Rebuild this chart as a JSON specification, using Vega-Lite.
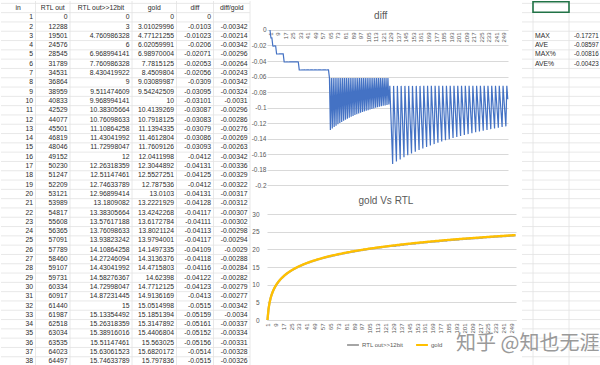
{
"$schema":"https://vega.github.io/schema/vega-lite/v6.json",
"padding":0,
"background":"white",
"spacing":0,
"align":"none",
"title":{"text":"知乎 @知也无涯","orient":"bottom","anchor":"end","offset":-32,"dx":-8,"baseline":"top","font":"Noto Sans CJK SC","fontSize":20,"color":"#9a9a9a","fontWeight":"normal"},
"config":{
 "view":{"stroke":null},
 "font":"Liberation Sans",
 "concat":{"spacing":0},
 "text":{"font":"Liberation Sans","fontSize":6.8,"color":"#2b2b2b","baseline":"middle"},
 "rule":{"color":"#e2e2e2","strokeWidth":0.8},
 "axis":{"labelFont":"Liberation Sans","labelFontSize":6.5,"labelColor":"#595959","title":null},
 "title":{"font":"Liberation Sans","fontSize":10,"color":"#595959","fontWeight":"normal"},
 "legend":{"labelFont":"Liberation Sans","labelFontSize":6,"labelColor":"#595959"}
},
"datasets":{
 "cols":[{"b":1},{"b":2},{"b":3},{"b":4},{"b":5},{"b":6}],
 "stats":[{"row":3,"k":"MAX","v":"-0.17271"},{"row":4,"k":"AVE","v":"-0.08597"},{"row":5,"k":"MAX%","v":"-0.00816"},{"row":6,"k":"AVE%","v":"-0.00423"}],
 "t":[
{"row":0,"a":"in","b":"RTL out","c":"RTL out>>12bit","d":"gold","e":"diff","f":"diff/gold"},
{"row":1,"a":"1","b":"0","c":"0","d":"0","e":"0","f":""},
{"row":2,"a":"2","b":"12288","c":"3","d":"3.01029996","e":"-0.0103","f":"-0.00342"},
{"row":3,"a":"3","b":"19501","c":"4.760986328","d":"4.77121255","e":"-0.01023","f":"-0.00214"},
{"row":4,"a":"4","b":"24576","c":"6","d":"6.02059991","e":"-0.0206","f":"-0.00342"},
{"row":5,"a":"5","b":"28545","c":"6.968994141","d":"6.98970004","e":"-0.02071","f":"-0.00296"},
{"row":6,"a":"6","b":"31789","c":"7.760986328","d":"7.7815125","e":"-0.02053","f":"-0.00264"},
{"row":7,"a":"7","b":"34531","c":"8.430419922","d":"8.4509804","e":"-0.02056","f":"-0.00243"},
{"row":8,"a":"8","b":"36864","c":"9","d":"9.03089987","e":"-0.0309","f":"-0.00342"},
{"row":9,"a":"9","b":"38959","c":"9.511474609","d":"9.54242509","e":"-0.03095","f":"-0.00324"},
{"row":10,"a":"10","b":"40833","c":"9.968994141","d":"10","e":"-0.03101","f":"-0.0031"},
{"row":11,"a":"11","b":"42529","c":"10.38305664","d":"10.4139269","e":"-0.03087","f":"-0.00296"},
{"row":12,"a":"12","b":"44077","c":"10.76098633","d":"10.7918125","e":"-0.03083","f":"-0.00286"},
{"row":13,"a":"13","b":"45501","c":"11.10864258","d":"11.1394335","e":"-0.03079","f":"-0.00276"},
{"row":14,"a":"14","b":"46819","c":"11.43041992","d":"11.4612804","e":"-0.03086","f":"-0.00269"},
{"row":15,"a":"15","b":"48046","c":"11.72998047","d":"11.7609126","e":"-0.03093","f":"-0.00263"},
{"row":16,"a":"16","b":"49152","c":"12","d":"12.0411998","e":"-0.0412","f":"-0.00342"},
{"row":17,"a":"17","b":"50230","c":"12.26318359","d":"12.3044892","e":"-0.04131","f":"-0.00336"},
{"row":18,"a":"18","b":"51247","c":"12.51147461","d":"12.5527251","e":"-0.04125","f":"-0.00329"},
{"row":19,"a":"19","b":"52209","c":"12.74633789","d":"12.787536","e":"-0.0412","f":"-0.00322"},
{"row":20,"a":"20","b":"53121","c":"12.96899414","d":"13.0103","e":"-0.04131","f":"-0.00317"},
{"row":21,"a":"21","b":"53989","c":"13.1809082","d":"13.2221929","e":"-0.04128","f":"-0.00312"},
{"row":22,"a":"22","b":"54817","c":"13.38305664","d":"13.4242268","e":"-0.04117","f":"-0.00307"},
{"row":23,"a":"23","b":"55608","c":"13.57617188","d":"13.6172784","e":"-0.04111","f":"-0.00302"},
{"row":24,"a":"24","b":"56365","c":"13.76098633","d":"13.8021124","e":"-0.04113","f":"-0.00298"},
{"row":25,"a":"25","b":"57091","c":"13.93823242","d":"13.9794001","e":"-0.04117","f":"-0.00294"},
{"row":26,"a":"26","b":"57789","c":"14.10864258","d":"14.1497335","e":"-0.04109","f":"-0.0029"},
{"row":27,"a":"27","b":"58460","c":"14.27246094","d":"14.3136376","e":"-0.04118","f":"-0.00288"},
{"row":28,"a":"28","b":"59107","c":"14.43041992","d":"14.4715803","e":"-0.04116","f":"-0.00284"},
{"row":29,"a":"29","b":"59731","c":"14.58276367","d":"14.62398","e":"-0.04122","f":"-0.00282"},
{"row":30,"a":"30","b":"60334","c":"14.72998047","d":"14.7712125","e":"-0.04123","f":"-0.00279"},
{"row":31,"a":"31","b":"60917","c":"14.87231445","d":"14.9136169","e":"-0.0413","f":"-0.00277"},
{"row":32,"a":"32","b":"61440","c":"15","d":"15.0514998","e":"-0.0515","f":"-0.00342"},
{"row":33,"a":"33","b":"61987","c":"15.13354492","d":"15.1851394","e":"-0.05159","f":"-0.0034"},
{"row":34,"a":"34","b":"62518","c":"15.26318359","d":"15.3147892","e":"-0.05161","f":"-0.00337"},
{"row":35,"a":"35","b":"63034","c":"15.38916016","d":"15.4406804","e":"-0.05152","f":"-0.00334"},
{"row":36,"a":"36","b":"63535","c":"15.51147461","d":"15.563025","e":"-0.05156","f":"-0.00331"},
{"row":37,"a":"37","b":"64023","c":"15.63061523","d":"15.6820172","e":"-0.0514","f":"-0.00328"},
{"row":38,"a":"38","b":"64497","c":"15.74633789","d":"15.797836","e":"-0.0515","f":"-0.00326"}
 ],
 "s":[
{"n":1,"g":0,"r":0,"d":0},{"n":2,"g":3.01,"r":3,"d":-0.0103},{"n":3,"g":4.77,"r":4.76,"d":-0.0102},{"n":4,"g":6.02,"r":6,"d":-0.0206},{"n":5,"g":6.99,"r":6.97,"d":-0.0207},{"n":6,"g":7.78,"r":7.76,"d":-0.0205},{"n":7,"g":8.45,"r":8.43,"d":-0.0206},{"n":8,"g":9.03,"r":9,"d":-0.0309},{"n":9,"g":9.54,"r":9.51,"d":-0.031},{"n":10,"g":10,"r":9.97,"d":-0.031},
{"n":11,"g":10.41,"r":10.38,"d":-0.0309},{"n":12,"g":10.79,"r":10.76,"d":-0.0308},{"n":13,"g":11.14,"r":11.11,"d":-0.0308},{"n":14,"g":11.46,"r":11.43,"d":-0.0309},{"n":15,"g":11.76,"r":11.73,"d":-0.0309},{"n":16,"g":12.04,"r":12,"d":-0.0412},{"n":17,"g":12.3,"r":12.26,"d":-0.0413},{"n":18,"g":12.55,"r":12.51,"d":-0.0413},{"n":19,"g":12.79,"r":12.75,"d":-0.0412},{"n":20,"g":13.01,"r":12.97,"d":-0.0413},
{"n":21,"g":13.22,"r":13.18,"d":-0.0413},{"n":22,"g":13.42,"r":13.38,"d":-0.0412},{"n":23,"g":13.62,"r":13.58,"d":-0.0411},{"n":24,"g":13.8,"r":13.76,"d":-0.0411},{"n":25,"g":13.98,"r":13.94,"d":-0.0412},{"n":26,"g":14.15,"r":14.11,"d":-0.0411},{"n":27,"g":14.31,"r":14.27,"d":-0.0412},{"n":28,"g":14.47,"r":14.43,"d":-0.0412},{"n":29,"g":14.62,"r":14.58,"d":-0.0412},{"n":30,"g":14.77,"r":14.73,"d":-0.0412},
{"n":31,"g":14.91,"r":14.87,"d":-0.0413},{"n":32,"g":15.05,"r":15,"d":-0.0515},{"n":33,"g":15.19,"r":15.13,"d":-0.0516},{"n":34,"g":15.31,"r":15.26,"d":-0.0516},{"n":35,"g":15.44,"r":15.39,"d":-0.0515},{"n":36,"g":15.56,"r":15.51,"d":-0.0516},{"n":37,"g":15.68,"r":15.63,"d":-0.0514},{"n":38,"g":15.8,"r":15.75,"d":-0.0515},{"n":39,"g":15.91,"r":15.86,"d":-0.0516},{"n":40,"g":16.02,"r":15.97,"d":-0.0515},
{"n":41,"g":16.13,"r":16.08,"d":-0.0514},{"n":42,"g":16.23,"r":16.18,"d":-0.0515},{"n":43,"g":16.33,"r":16.28,"d":-0.0516},{"n":44,"g":16.43,"r":16.38,"d":-0.0515},{"n":45,"g":16.53,"r":16.48,"d":-0.0514},{"n":46,"g":16.63,"r":16.58,"d":-0.0515},{"n":47,"g":16.72,"r":16.67,"d":-0.0516},{"n":48,"g":16.81,"r":16.76,"d":-0.0515},{"n":49,"g":16.9,"r":16.85,"d":-0.0514},{"n":50,"g":16.99,"r":16.94,"d":-0.0515},
{"n":51,"g":17.08,"r":17.02,"d":-0.0516},{"n":52,"g":17.16,"r":17.11,"d":-0.0515},{"n":53,"g":17.24,"r":17.19,"d":-0.0514},{"n":54,"g":17.32,"r":17.27,"d":-0.0515},{"n":55,"g":17.4,"r":17.35,"d":-0.0515},{"n":56,"g":17.48,"r":17.43,"d":-0.0516},{"n":57,"g":17.56,"r":17.51,"d":-0.0515},{"n":58,"g":17.63,"r":17.58,"d":-0.0514},{"n":59,"g":17.71,"r":17.66,"d":-0.0515},{"n":60,"g":17.78,"r":17.73,"d":-0.0515},
{"n":61,"g":17.85,"r":17.8,"d":-0.0516},{"n":62,"g":17.92,"r":17.87,"d":-0.0515},{"n":63,"g":17.99,"r":17.94,"d":-0.0515},{"n":64,"g":18.06,"r":18,"d":-0.0618},{"n":65,"g":18.13,"r":18,"d":-0.1291},{"n":66,"g":18.2,"r":18.13,"d":-0.0618},{"n":67,"g":18.26,"r":18.13,"d":-0.1271},{"n":68,"g":18.33,"r":18.26,"d":-0.0618},{"n":69,"g":18.39,"r":18.26,"d":-0.1252},{"n":70,"g":18.45,"r":18.39,"d":-0.0618},
{"n":71,"g":18.51,"r":18.39,"d":-0.1234},{"n":72,"g":18.57,"r":18.51,"d":-0.0618},{"n":73,"g":18.63,"r":18.51,"d":-0.1217},{"n":74,"g":18.69,"r":18.63,"d":-0.0618},{"n":75,"g":18.75,"r":18.63,"d":-0.1201},{"n":76,"g":18.81,"r":18.75,"d":-0.0618},{"n":77,"g":18.86,"r":18.75,"d":-0.1186},{"n":78,"g":18.92,"r":18.86,"d":-0.0618},{"n":79,"g":18.98,"r":18.86,"d":-0.1171},{"n":80,"g":19.03,"r":18.97,"d":-0.0618},
{"n":81,"g":19.08,"r":18.97,"d":-0.1157},{"n":82,"g":19.14,"r":19.08,"d":-0.0618},{"n":83,"g":19.19,"r":19.08,"d":-0.1144},{"n":84,"g":19.24,"r":19.18,"d":-0.0618},{"n":85,"g":19.29,"r":19.18,"d":-0.1132},{"n":86,"g":19.35,"r":19.28,"d":-0.0618},{"n":87,"g":19.4,"r":19.28,"d":-0.112},{"n":88,"g":19.44,"r":19.38,"d":-0.0618},{"n":89,"g":19.49,"r":19.38,"d":-0.1109},{"n":90,"g":19.54,"r":19.48,"d":-0.0618},
{"n":91,"g":19.59,"r":19.48,"d":-0.1098},{"n":92,"g":19.64,"r":19.58,"d":-0.0618},{"n":93,"g":19.68,"r":19.58,"d":-0.1088},{"n":94,"g":19.73,"r":19.67,"d":-0.0618},{"n":95,"g":19.78,"r":19.67,"d":-0.1078},{"n":96,"g":19.82,"r":19.76,"d":-0.0618},{"n":97,"g":19.87,"r":19.76,"d":-0.1068},{"n":98,"g":19.91,"r":19.85,"d":-0.0618},{"n":99,"g":19.96,"r":19.85,"d":-0.1059},{"n":100,"g":20,"r":19.94,"d":-0.0618},
{"n":101,"g":20.04,"r":19.94,"d":-0.105},{"n":102,"g":20.09,"r":20.02,"d":-0.0618},{"n":103,"g":20.13,"r":20.02,"d":-0.1042},{"n":104,"g":20.17,"r":20.11,"d":-0.0618},{"n":105,"g":20.21,"r":20.11,"d":-0.1034},{"n":106,"g":20.25,"r":20.19,"d":-0.0618},{"n":107,"g":20.29,"r":20.19,"d":-0.1026},{"n":108,"g":20.33,"r":20.27,"d":-0.0618},{"n":109,"g":20.37,"r":20.27,"d":-0.1018},{"n":110,"g":20.41,"r":20.35,"d":-0.0618},
{"n":111,"g":20.45,"r":20.35,"d":-0.1011},{"n":112,"g":20.49,"r":20.43,"d":-0.0618},{"n":113,"g":20.53,"r":20.43,"d":-0.1004},{"n":114,"g":20.57,"r":20.51,"d":-0.0618},{"n":115,"g":20.61,"r":20.51,"d":-0.0997},{"n":116,"g":20.64,"r":20.58,"d":-0.0618},{"n":117,"g":20.68,"r":20.58,"d":-0.0991},{"n":118,"g":20.72,"r":20.66,"d":-0.0618},{"n":119,"g":20.76,"r":20.66,"d":-0.0985},{"n":120,"g":20.79,"r":20.73,"d":-0.0618},
{"n":121,"g":20.83,"r":20.73,"d":-0.0978},{"n":122,"g":20.86,"r":20.8,"d":-0.0618},{"n":123,"g":20.9,"r":20.8,"d":-0.0973},{"n":124,"g":20.93,"r":20.87,"d":-0.0618},{"n":125,"g":20.97,"r":20.87,"d":-0.0967},{"n":126,"g":21,"r":20.94,"d":-0.0618},{"n":127,"g":21.04,"r":20.94,"d":-0.0961},{"n":128,"g":21.07,"r":21,"d":-0.0721},{"n":129,"g":21.11,"r":21,"d":-0.1059},{"n":130,"g":21.14,"r":21,"d":-0.1394},
{"n":131,"g":21.17,"r":21,"d":-0.1727},{"n":132,"g":21.21,"r":21.13,"d":-0.0721},{"n":133,"g":21.24,"r":21.13,"d":-0.1049},{"n":134,"g":21.27,"r":21.13,"d":-0.1374},{"n":135,"g":21.3,"r":21.13,"d":-0.1697},{"n":136,"g":21.34,"r":21.26,"d":-0.0721},{"n":137,"g":21.37,"r":21.26,"d":-0.1039},{"n":138,"g":21.4,"r":21.26,"d":-0.1355},{"n":139,"g":21.43,"r":21.26,"d":-0.1669},{"n":140,"g":21.46,"r":21.39,"d":-0.0721},
{"n":141,"g":21.49,"r":21.39,"d":-0.103},{"n":142,"g":21.52,"r":21.39,"d":-0.1337},{"n":143,"g":21.55,"r":21.39,"d":-0.1642},{"n":144,"g":21.58,"r":21.51,"d":-0.0721},{"n":145,"g":21.61,"r":21.51,"d":-0.1022},{"n":146,"g":21.64,"r":21.51,"d":-0.132},{"n":147,"g":21.67,"r":21.51,"d":-0.1617},{"n":148,"g":21.7,"r":21.63,"d":-0.0721},{"n":149,"g":21.73,"r":21.63,"d":-0.1014},{"n":150,"g":21.76,"r":21.63,"d":-0.1304},
{"n":151,"g":21.79,"r":21.63,"d":-0.1593},{"n":152,"g":21.82,"r":21.75,"d":-0.0721},{"n":153,"g":21.85,"r":21.75,"d":-0.1006},{"n":154,"g":21.88,"r":21.75,"d":-0.1289},{"n":155,"g":21.9,"r":21.75,"d":-0.157},{"n":156,"g":21.93,"r":21.86,"d":-0.0721},{"n":157,"g":21.96,"r":21.86,"d":-0.0999},{"n":158,"g":21.99,"r":21.86,"d":-0.1274},{"n":159,"g":22.01,"r":21.86,"d":-0.1548},{"n":160,"g":22.04,"r":21.97,"d":-0.0721},
{"n":161,"g":22.07,"r":21.97,"d":-0.0992},{"n":162,"g":22.1,"r":21.97,"d":-0.1261},{"n":163,"g":22.12,"r":21.97,"d":-0.1528},{"n":164,"g":22.15,"r":22.08,"d":-0.0721},{"n":165,"g":22.17,"r":22.08,"d":-0.0985},{"n":166,"g":22.2,"r":22.08,"d":-0.1247},{"n":167,"g":22.23,"r":22.08,"d":-0.1508},{"n":168,"g":22.25,"r":22.18,"d":-0.0721},{"n":169,"g":22.28,"r":22.18,"d":-0.0979},{"n":170,"g":22.3,"r":22.18,"d":-0.1235},
{"n":171,"g":22.33,"r":22.18,"d":-0.149},{"n":172,"g":22.36,"r":22.28,"d":-0.0721},{"n":173,"g":22.38,"r":22.28,"d":-0.0973},{"n":174,"g":22.41,"r":22.28,"d":-0.1223},{"n":175,"g":22.43,"r":22.28,"d":-0.1472},{"n":176,"g":22.46,"r":22.38,"d":-0.0721},{"n":177,"g":22.48,"r":22.38,"d":-0.0967},{"n":178,"g":22.5,"r":22.38,"d":-0.1212},{"n":179,"g":22.53,"r":22.38,"d":-0.1455},{"n":180,"g":22.55,"r":22.48,"d":-0.0721},
{"n":181,"g":22.58,"r":22.48,"d":-0.0962},{"n":182,"g":22.6,"r":22.48,"d":-0.1201},{"n":183,"g":22.62,"r":22.48,"d":-0.1439},{"n":184,"g":22.65,"r":22.58,"d":-0.0721},{"n":185,"g":22.67,"r":22.58,"d":-0.0956},{"n":186,"g":22.7,"r":22.58,"d":-0.1191},{"n":187,"g":22.72,"r":22.58,"d":-0.1423},{"n":188,"g":22.74,"r":22.67,"d":-0.0721},{"n":189,"g":22.76,"r":22.67,"d":-0.0951},{"n":190,"g":22.79,"r":22.67,"d":-0.1181},
{"n":191,"g":22.81,"r":22.67,"d":-0.1409},{"n":192,"g":22.83,"r":22.76,"d":-0.0721},{"n":193,"g":22.86,"r":22.76,"d":-0.0947},{"n":194,"g":22.88,"r":22.76,"d":-0.1171},{"n":195,"g":22.9,"r":22.76,"d":-0.1394},{"n":196,"g":22.92,"r":22.85,"d":-0.0721},{"n":197,"g":22.94,"r":22.85,"d":-0.0942},{"n":198,"g":22.97,"r":22.85,"d":-0.1162},{"n":199,"g":22.99,"r":22.85,"d":-0.1381},{"n":200,"g":23.01,"r":22.94,"d":-0.0721},
{"n":201,"g":23.03,"r":22.94,"d":-0.0938},{"n":202,"g":23.05,"r":22.94,"d":-0.1153},{"n":203,"g":23.08,"r":22.94,"d":-0.1368},{"n":204,"g":23.1,"r":23.02,"d":-0.0721},{"n":205,"g":23.12,"r":23.02,"d":-0.0933},{"n":206,"g":23.14,"r":23.02,"d":-0.1145},{"n":207,"g":23.16,"r":23.02,"d":-0.1355},{"n":208,"g":23.18,"r":23.11,"d":-0.0721},{"n":209,"g":23.2,"r":23.11,"d":-0.0929},{"n":210,"g":23.22,"r":23.11,"d":-0.1137},
{"n":211,"g":23.24,"r":23.11,"d":-0.1343},{"n":212,"g":23.26,"r":23.19,"d":-0.0721},{"n":213,"g":23.28,"r":23.19,"d":-0.0925},{"n":214,"g":23.3,"r":23.19,"d":-0.1129},{"n":215,"g":23.32,"r":23.19,"d":-0.1331},{"n":216,"g":23.34,"r":23.27,"d":-0.0721},{"n":217,"g":23.36,"r":23.27,"d":-0.0922},{"n":218,"g":23.38,"r":23.27,"d":-0.1121},{"n":219,"g":23.4,"r":23.27,"d":-0.132},{"n":220,"g":23.42,"r":23.35,"d":-0.0721},
{"n":221,"g":23.44,"r":23.35,"d":-0.0918},{"n":222,"g":23.46,"r":23.35,"d":-0.1114},{"n":223,"g":23.48,"r":23.35,"d":-0.1309},{"n":224,"g":23.5,"r":23.43,"d":-0.0721},{"n":225,"g":23.52,"r":23.43,"d":-0.0914},{"n":226,"g":23.54,"r":23.43,"d":-0.1107},{"n":227,"g":23.56,"r":23.43,"d":-0.1299},{"n":228,"g":23.58,"r":23.51,"d":-0.0721},{"n":229,"g":23.6,"r":23.51,"d":-0.0911},{"n":230,"g":23.62,"r":23.51,"d":-0.11},
{"n":231,"g":23.64,"r":23.51,"d":-0.1289},{"n":232,"g":23.65,"r":23.58,"d":-0.0721},{"n":233,"g":23.67,"r":23.58,"d":-0.0908},{"n":234,"g":23.69,"r":23.58,"d":-0.1094},{"n":235,"g":23.71,"r":23.58,"d":-0.1279},{"n":236,"g":23.73,"r":23.66,"d":-0.0721},{"n":237,"g":23.75,"r":23.66,"d":-0.0905},{"n":238,"g":23.77,"r":23.66,"d":-0.1088},{"n":239,"g":23.78,"r":23.66,"d":-0.127},{"n":240,"g":23.8,"r":23.73,"d":-0.0721},
{"n":241,"g":23.82,"r":23.73,"d":-0.0902},{"n":242,"g":23.84,"r":23.73,"d":-0.1081},{"n":243,"g":23.86,"r":23.73,"d":-0.1261},{"n":244,"g":23.87,"r":23.8,"d":-0.0721},{"n":245,"g":23.89,"r":23.8,"d":-0.0899},{"n":246,"g":23.91,"r":23.8,"d":-0.1076},{"n":247,"g":23.93,"r":23.8,"d":-0.1252},{"n":248,"g":23.94,"r":23.87,"d":-0.0721},{"n":249,"g":23.96,"r":23.87,"d":-0.0896},{"n":250,"g":23.98,"r":23.87,"d":-0.107},
{"n":251,"g":24,"r":23.87,"d":-0.1243},{"n":252,"g":24.01,"r":23.94,"d":-0.0721},{"n":253,"g":24.03,"r":23.94,"d":-0.0893}
 ]
},
"hconcat":[
 {
  "width":249,"height":365,
  "data":{"name":"t"},
  "layer":[
   {"mark":{"type":"rule","yOffset":-4.65},"encoding":{"x":{"datum":0,"type":"quantitative","scale":{"domain":[0,1,2,3,4,5,6],"range":[0,34.5,69,131,175.5,212.5,249],"nice":false,"zero":false},"axis":null},"x2":{"datum":6},"y":{"field":"row","type":"quantitative","scale":{"domain":[-0.7527,38.495],"reverse":true,"nice":false,"zero":false},"axis":null}}},
   {"data":{"name":"cols"},"mark":{"type":"rule"},"encoding":{"x":{"field":"b","type":"quantitative","scale":{"domain":[0,1,2,3,4,5,6],"range":[0,34.5,69,131,175.5,212.5,249],"nice":false,"zero":false},"axis":null}}},
   {"transform":[{"filter":"datum.row>0"}],"mark":{"type":"text","align":"right","dx":-2.5},"encoding":{"x":{"datum":1,"type":"quantitative","scale":{"domain":[0,1,2,3,4,5,6],"range":[0,34.5,69,131,175.5,212.5,249],"nice":false,"zero":false},"axis":null},"y":{"field":"row","type":"quantitative","scale":{"domain":[-0.7527,38.495],"reverse":true,"nice":false,"zero":false},"axis":null},"text":{"field":"a"}}},
   {"transform":[{"filter":"datum.row>0"}],"mark":{"type":"text","align":"right","dx":-2.5},"encoding":{"x":{"datum":2,"type":"quantitative","scale":{"domain":[0,1,2,3,4,5,6],"range":[0,34.5,69,131,175.5,212.5,249],"nice":false,"zero":false},"axis":null},"y":{"field":"row","type":"quantitative","scale":{"domain":[-0.7527,38.495],"reverse":true,"nice":false,"zero":false},"axis":null},"text":{"field":"b"}}},
   {"transform":[{"filter":"datum.row>0"}],"mark":{"type":"text","align":"right","dx":-2.5},"encoding":{"x":{"datum":3,"type":"quantitative","scale":{"domain":[0,1,2,3,4,5,6],"range":[0,34.5,69,131,175.5,212.5,249],"nice":false,"zero":false},"axis":null},"y":{"field":"row","type":"quantitative","scale":{"domain":[-0.7527,38.495],"reverse":true,"nice":false,"zero":false},"axis":null},"text":{"field":"c"}}},
   {"transform":[{"filter":"datum.row>0"}],"mark":{"type":"text","align":"right","dx":-2.5},"encoding":{"x":{"datum":4,"type":"quantitative","scale":{"domain":[0,1,2,3,4,5,6],"range":[0,34.5,69,131,175.5,212.5,249],"nice":false,"zero":false},"axis":null},"y":{"field":"row","type":"quantitative","scale":{"domain":[-0.7527,38.495],"reverse":true,"nice":false,"zero":false},"axis":null},"text":{"field":"d"}}},
   {"transform":[{"filter":"datum.row>0"}],"mark":{"type":"text","align":"right","dx":-2.5},"encoding":{"x":{"datum":5,"type":"quantitative","scale":{"domain":[0,1,2,3,4,5,6],"range":[0,34.5,69,131,175.5,212.5,249],"nice":false,"zero":false},"axis":null},"y":{"field":"row","type":"quantitative","scale":{"domain":[-0.7527,38.495],"reverse":true,"nice":false,"zero":false},"axis":null},"text":{"field":"e"}}},
   {"transform":[{"filter":"datum.row>0"}],"mark":{"type":"text","align":"right","dx":-2.5},"encoding":{"x":{"datum":6,"type":"quantitative","scale":{"domain":[0,1,2,3,4,5,6],"range":[0,34.5,69,131,175.5,212.5,249],"nice":false,"zero":false},"axis":null},"y":{"field":"row","type":"quantitative","scale":{"domain":[-0.7527,38.495],"reverse":true,"nice":false,"zero":false},"axis":null},"text":{"field":"f"}}},
   {"transform":[{"filter":"datum.row==0"}],"mark":{"type":"text","align":"center"},"encoding":{"x":{"datum":0.5,"type":"quantitative","scale":{"domain":[0,1,2,3,4,5,6],"range":[0,34.5,69,131,175.5,212.5,249],"nice":false,"zero":false},"axis":null},"y":{"field":"row","type":"quantitative","scale":{"domain":[-0.7527,38.495],"reverse":true,"nice":false,"zero":false},"axis":null},"text":{"field":"a"}}},
   {"transform":[{"filter":"datum.row==0"}],"mark":{"type":"text","align":"center"},"encoding":{"x":{"datum":1.5,"type":"quantitative","scale":{"domain":[0,1,2,3,4,5,6],"range":[0,34.5,69,131,175.5,212.5,249],"nice":false,"zero":false},"axis":null},"y":{"field":"row","type":"quantitative","scale":{"domain":[-0.7527,38.495],"reverse":true,"nice":false,"zero":false},"axis":null},"text":{"field":"b"}}},
   {"transform":[{"filter":"datum.row==0"}],"mark":{"type":"text","align":"center"},"encoding":{"x":{"datum":2.5,"type":"quantitative","scale":{"domain":[0,1,2,3,4,5,6],"range":[0,34.5,69,131,175.5,212.5,249],"nice":false,"zero":false},"axis":null},"y":{"field":"row","type":"quantitative","scale":{"domain":[-0.7527,38.495],"reverse":true,"nice":false,"zero":false},"axis":null},"text":{"field":"c"}}},
   {"transform":[{"filter":"datum.row==0"}],"mark":{"type":"text","align":"center"},"encoding":{"x":{"datum":3.5,"type":"quantitative","scale":{"domain":[0,1,2,3,4,5,6],"range":[0,34.5,69,131,175.5,212.5,249],"nice":false,"zero":false},"axis":null},"y":{"field":"row","type":"quantitative","scale":{"domain":[-0.7527,38.495],"reverse":true,"nice":false,"zero":false},"axis":null},"text":{"field":"d"}}},
   {"transform":[{"filter":"datum.row==0"}],"mark":{"type":"text","align":"center"},"encoding":{"x":{"datum":4.5,"type":"quantitative","scale":{"domain":[0,1,2,3,4,5,6],"range":[0,34.5,69,131,175.5,212.5,249],"nice":false,"zero":false},"axis":null},"y":{"field":"row","type":"quantitative","scale":{"domain":[-0.7527,38.495],"reverse":true,"nice":false,"zero":false},"axis":null},"text":{"field":"e"}}},
   {"transform":[{"filter":"datum.row==0"}],"mark":{"type":"text","align":"center"},"encoding":{"x":{"datum":5.5,"type":"quantitative","scale":{"domain":[0,1,2,3,4,5,6],"range":[0,34.5,69,131,175.5,212.5,249],"nice":false,"zero":false},"axis":null},"y":{"field":"row","type":"quantitative","scale":{"domain":[-0.7527,38.495],"reverse":true,"nice":false,"zero":false},"axis":null},"text":{"field":"f"}}}
  ]
 },
 {
  "spacing":0,
  "vconcat":[
   {
    "width":241,"height":190,
    "title":{"text":"diff","offset":-30,"baseline":"bottom","frame":"bounds","anchor":"middle"},
    "data":{"name":"s"},
    "mark":{"type":"line","color":"#4472C4","strokeWidth":1.2},
    "encoding":{
     "x":{"field":"n","type":"quantitative","scale":{"domain":[-2.18,253.25],"nice":false,"zero":false},"axis":{"orient":"bottom","offset":-161,"values":[1,9,17,25,33,41,49,57,65,73,81,89,97,105,113,121,129,137,145,153,161,169,177,185,193,201,209,217,225,233,241,249],"labelAngle":-90,"format":"d","ticks":false,"domain":false,"grid":false,"labelPadding":2,"labelOverlap":false,"labelFlush":false,"labelFontSize":6}},
     "y":{"field":"d","type":"quantitative","scale":{"domain":[-0.2077,0.0374],"nice":false,"zero":false},"axis":{"values":[0,-0.02,-0.04,-0.06,-0.08,-0.1,-0.12,-0.14,-0.16,-0.18,-0.2],"grid":true,"gridColor":"#d9d9d9","domain":false,"ticks":false,"labelPadding":1,"labelExpr":"datum.value == 0 ? '0' : '-' + format(-datum.value, '~g')"}}
    }
   },
   {
    "width":249,"height":129,
    "title":{"text":"gold Vs RTL","offset":-25,"baseline":"bottom","frame":"bounds","anchor":"middle"},
    "data":{"name":"s"},
    "encoding":{
     "x":{"field":"n","type":"quantitative","scale":{"domain":[0.5,253.5],"nice":false,"zero":false},"axis":{"orient":"bottom","values":[1,9,17,25,33,41,49,57,65,73,81,89,97,105,113,121,129,137,145,153,161,169,177,185,193,201,209,217,225,233,241,249],"labelAngle":-90,"format":"d","ticks":false,"domain":true,"domainColor":"#d9d9d9","grid":false,"labelPadding":3,"labelOverlap":false,"labelFlush":false,"labelFontSize":6}}
    },
    "layer":[
     {"mark":{"type":"line","strokeWidth":2.2},"encoding":{"y":{"field":"r","type":"quantitative","scale":{"domain":[0,36.51],"nice":false,"zero":false},"axis":{"values":[0,5,10,15,20,25,30],"grid":true,"gridColor":"#d9d9d9","domain":false,"ticks":false,"labelPadding":8,"format":"d"}},"color":{"datum":"RTL out>>12bit","type":"nominal","scale":{"domain":["RTL out>>12bit","gold"],"range":["#A5A5A5","#FFC000"]},"legend":{"orient":"none","legendX":345,"legendY":337,"direction":"horizontal","title":null,"symbolType":"stroke","symbolStrokeWidth":2,"symbolSize":140,"columnPadding":8,"labelOffset":2}}}},
     {"mark":{"type":"line","strokeWidth":2.3},"encoding":{"y":{"field":"g","type":"quantitative","scale":{"domain":[0,36.51],"nice":false,"zero":false},"axis":{"values":[0,5,10,15,20,25,30],"grid":true,"gridColor":"#d9d9d9","domain":false,"ticks":false,"labelPadding":8,"format":"d"}},"color":{"datum":"gold","type":"nominal","scale":{"domain":["RTL out>>12bit","gold"],"range":["#A5A5A5","#FFC000"]}}}}
    ]
   }
  ]
 },
 {
  "width":85,"height":365,
  "layer":[
   {"data":{"name":"t"},"mark":{"type":"rule","yOffset":-4.65},"encoding":{"x":{"datum":0,"type":"quantitative","scale":{"domain":[0,1,2,3],"range":[0,11,47,85],"nice":false,"zero":false},"axis":null},"x2":{"datum":3},"y":{"field":"row","type":"quantitative","scale":{"domain":[-0.7527,38.495],"reverse":true,"nice":false,"zero":false},"axis":null}}},
   {"data":{"values":[{"b":1},{"b":2}]},"mark":{"type":"rule"},"encoding":{"x":{"field":"b","type":"quantitative","scale":{"domain":[0,1,2,3],"range":[0,11,47,85],"nice":false,"zero":false},"axis":null}}},
   {"data":{"values":[{"cell":"G1"}]},"mark":{"type":"rect","fillOpacity":0,"stroke":"#217346","strokeWidth":1.6},"encoding":{"x":{"datum":1,"type":"quantitative","scale":{"domain":[0,1,2,3],"range":[0,11,47,85],"nice":false,"zero":false},"axis":null},"x2":{"datum":2},"y":{"datum":-0.68,"type":"quantitative","scale":{"domain":[-0.7527,38.495],"reverse":true,"nice":false,"zero":false},"axis":null},"y2":{"datum":0.45}}},
   {"data":{"name":"stats"},"mark":{"type":"text","align":"left","dx":2},"encoding":{"x":{"datum":1,"type":"quantitative","scale":{"domain":[0,1,2,3],"range":[0,11,47,85],"nice":false,"zero":false},"axis":null},"y":{"field":"row","type":"quantitative","scale":{"domain":[-0.7527,38.495],"reverse":true,"nice":false,"zero":false},"axis":null},"text":{"field":"k"}}},
   {"data":{"name":"stats"},"mark":{"type":"text","align":"left","dx":5,"fontSize":6.3},"encoding":{"x":{"datum":2,"type":"quantitative","scale":{"domain":[0,1,2,3],"range":[0,11,47,85],"nice":false,"zero":false},"axis":null},"y":{"field":"row","type":"quantitative","scale":{"domain":[-0.7527,38.495],"reverse":true,"nice":false,"zero":false},"axis":null},"text":{"field":"v"}}}
  ]
 }
]
}
